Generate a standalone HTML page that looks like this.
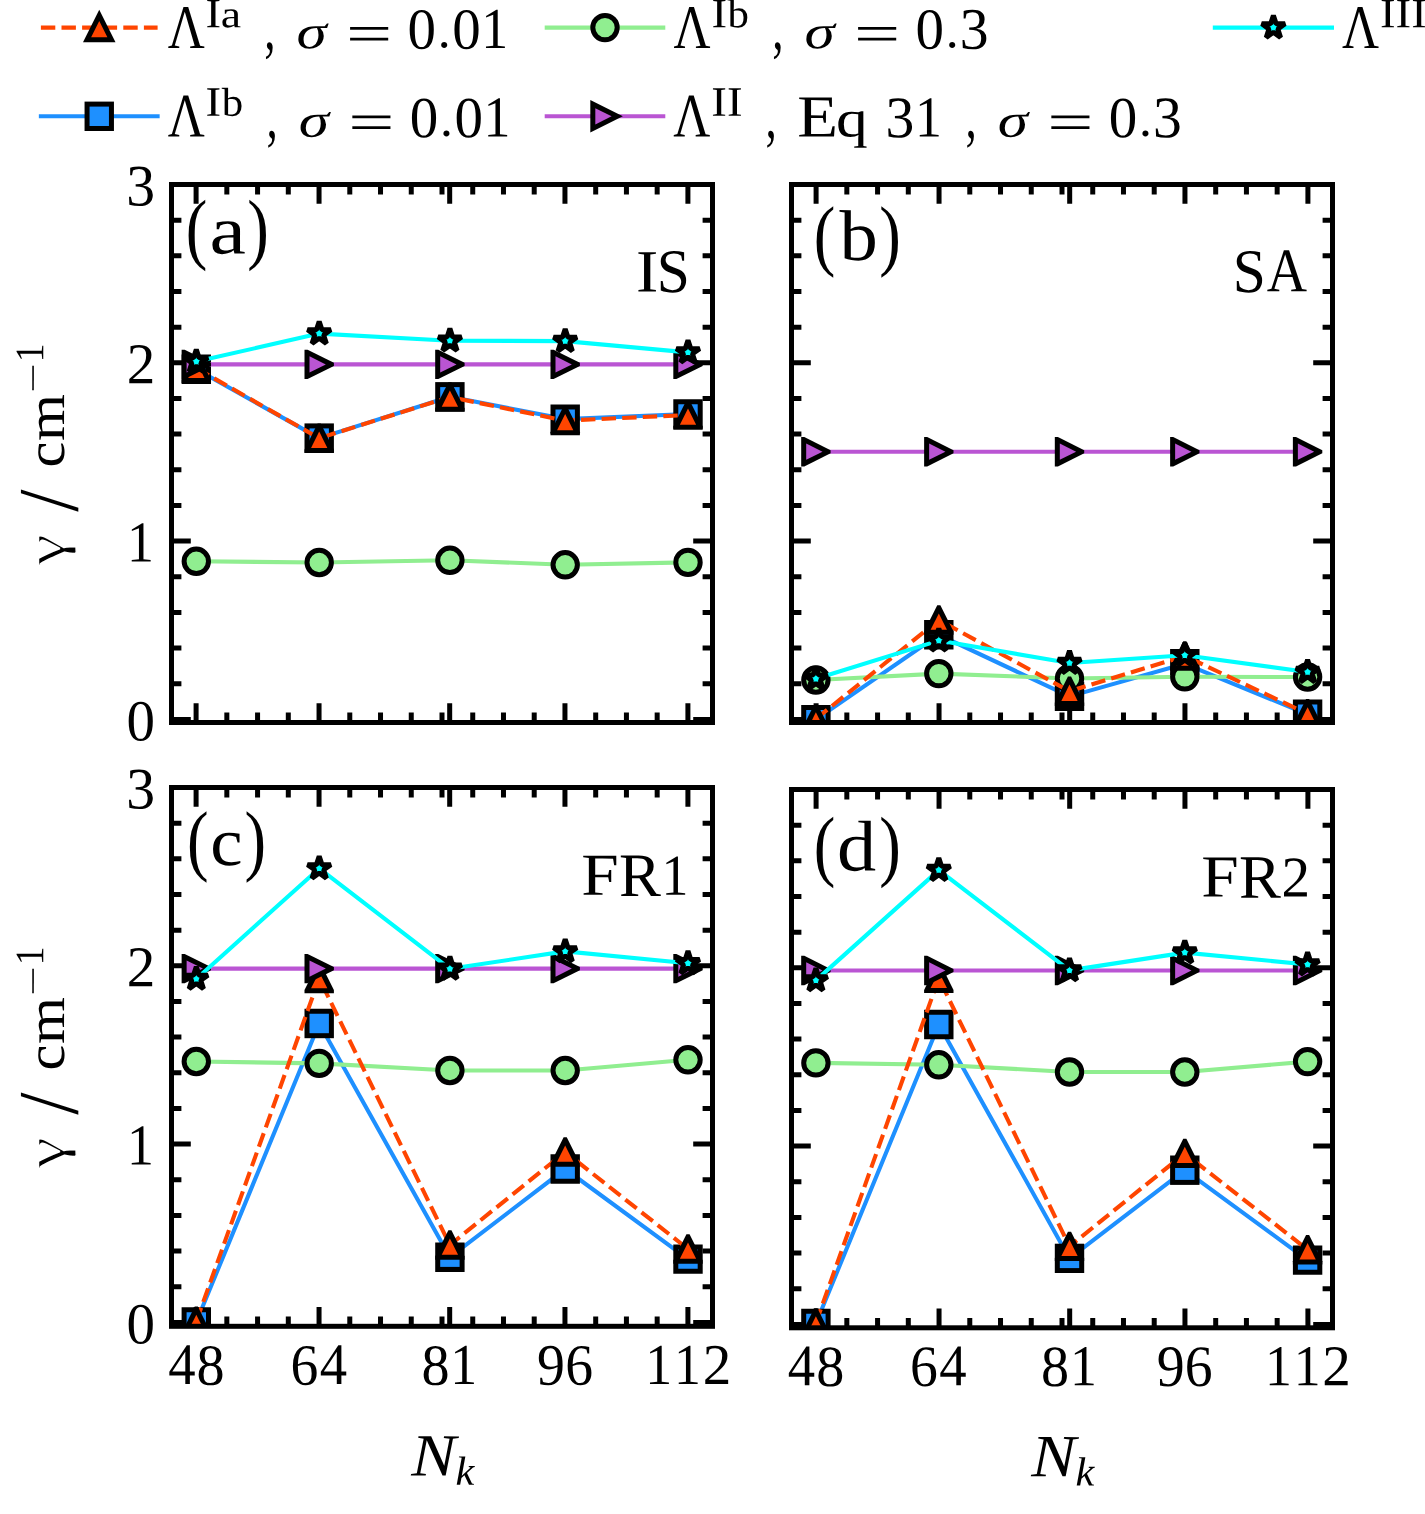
<!DOCTYPE html>
<html><head><meta charset="utf-8"><title>gamma vs Nk</title>
<style>
html,body{margin:0;padding:0;background:#fff;}
svg{display:block;}
text{font-size:100px;fill:#000;font-kerning:none;font-feature-settings:"kern" 0,"liga" 0;}
.r{font-family:"Liberation Serif",serif;}
.i{font-family:"Liberation Serif",serif;font-style:italic;}
.p{white-space:pre;}
.t{stroke:#fff;stroke-width:1.5px;vector-effect:non-scaling-stroke;paint-order:fill stroke;}
</style></head><body>
<svg width="1425" height="1514" viewBox="0 0 1425 1514">
<rect width="1425" height="1514" fill="#fff"/>
<defs><clipPath id="clipa"><rect x="171.5" y="184.5" width="541" height="538"/></clipPath><clipPath id="clipb"><rect x="791.5" y="184.5" width="541" height="538"/></clipPath><clipPath id="clipc"><rect x="171.5" y="787.5" width="541" height="538.8"/></clipPath><clipPath id="clipd"><rect x="791.5" y="789.5" width="541" height="538.3"/></clipPath></defs><line x1="40.9" y1="27.6" x2="157.6" y2="27.6" stroke="#ff4500" stroke-width="4.1" stroke-dasharray="14.4 6.2"/><path d="M99.25 9.81L115.495 42.3L83.005 42.3Z"/><path d="M99.25 20.99L107.405 37.3L91.095 37.3Z" fill="#ff4500"/><line x1="40.9" y1="116.3" x2="157.6" y2="116.3" stroke="#1e90ff" stroke-width="4.1" stroke-linecap="square"/><path d="M84.55 101.6L113.95 101.6L113.95 131L84.55 131Z"/><path d="M89.55 106.6L108.95 106.6L108.95 126L89.55 126Z" fill="#1e90ff"/><line x1="546.75" y1="27.6" x2="663.25" y2="27.6" stroke="#90ee90" stroke-width="4.1" stroke-linecap="square"/><circle cx="605" cy="27.6" r="12.2" fill="#90ee90" stroke="#000" stroke-width="5"/><line x1="546.75" y1="116.3" x2="663.25" y2="116.3" stroke="#ba55d3" stroke-width="4.1" stroke-linecap="square"/><path d="M622.79 116.3L590.3 132.545L590.3 100.055Z"/><path d="M611.61 116.3L595.3 124.455L595.3 108.145Z" fill="#ba55d3"/><line x1="1214.85" y1="27.6" x2="1331.95" y2="27.6" stroke="#00ffff" stroke-width="4.1" stroke-linecap="square"/><path d="M1273.4 15.4L1270.661 23.83L1261.797 23.83L1268.968 29.04L1266.229 37.47L1273.4 32.26L1280.571 37.47L1277.832 29.04L1285.003 23.83L1276.139 23.83Z" fill="#00ffff" stroke="#000" stroke-width="5" stroke-linejoin="bevel"/><path d="M196.091 722.5L196.091 703.2M196.091 184.5L196.091 203.8M319.045 722.5L319.045 703.2M319.045 184.5L319.045 203.8M449.685 722.5L449.685 703.2M449.685 184.5L449.685 203.8M564.955 722.5L564.955 703.2M564.955 184.5L564.955 203.8M687.909 722.5L687.909 703.2M687.909 184.5L687.909 203.8M226.83 722.5L226.83 712.6M226.83 184.5L226.83 194.4M257.568 722.5L257.568 712.6M257.568 184.5L257.568 194.4M288.307 722.5L288.307 712.6M288.307 184.5L288.307 194.4M349.784 722.5L349.784 712.6M349.784 184.5L349.784 194.4M380.523 722.5L380.523 712.6M380.523 184.5L380.523 194.4M411.261 722.5L411.261 712.6M411.261 184.5L411.261 194.4M442 722.5L442 712.6M442 184.5L442 194.4M472.739 722.5L472.739 712.6M472.739 184.5L472.739 194.4M503.477 722.5L503.477 712.6M503.477 184.5L503.477 194.4M534.216 722.5L534.216 712.6M534.216 184.5L534.216 194.4M595.693 722.5L595.693 712.6M595.693 184.5L595.693 194.4M626.432 722.5L626.432 712.6M626.432 184.5L626.432 194.4M657.17 722.5L657.17 712.6M657.17 184.5L657.17 194.4M171.5 719.4L190.8 719.4M712.5 719.4L693.2 719.4M171.5 683.74L181.4 683.74M712.5 683.74L702.6 683.74M171.5 648.08L181.4 648.08M712.5 648.08L702.6 648.08M171.5 612.42L181.4 612.42M712.5 612.42L702.6 612.42M171.5 576.76L181.4 576.76M712.5 576.76L702.6 576.76M171.5 541.1L190.8 541.1M712.5 541.1L693.2 541.1M171.5 505.44L181.4 505.44M712.5 505.44L702.6 505.44M171.5 469.78L181.4 469.78M712.5 469.78L702.6 469.78M171.5 434.12L181.4 434.12M712.5 434.12L702.6 434.12M171.5 398.46L181.4 398.46M712.5 398.46L702.6 398.46M171.5 362.8L190.8 362.8M712.5 362.8L693.2 362.8M171.5 327.14L181.4 327.14M712.5 327.14L702.6 327.14M171.5 291.48L181.4 291.48M712.5 291.48L702.6 291.48M171.5 255.82L181.4 255.82M712.5 255.82L702.6 255.82M171.5 220.16L181.4 220.16M712.5 220.16L702.6 220.16M171.5 184.5L190.8 184.5M712.5 184.5L693.2 184.5" stroke="#000" stroke-width="5" fill="none"/><g clip-path="url(#clipa)"><polyline points="196.3,369.3 319.2,438.1 449.9,396.8 565.2,419.1 688,414" fill="none" stroke="#1e90ff" stroke-width="4.1" stroke-linejoin="round"/><path d="M181.6 354.6L211 354.6L211 384L181.6 384Z"/><path d="M186.6 359.6L206 359.6L206 379L186.6 379Z" fill="#1e90ff"/><path d="M304.5 423.4L333.9 423.4L333.9 452.8L304.5 452.8Z"/><path d="M309.5 428.4L328.9 428.4L328.9 447.8L309.5 447.8Z" fill="#1e90ff"/><path d="M435.2 382.1L464.6 382.1L464.6 411.5L435.2 411.5Z"/><path d="M440.2 387.1L459.6 387.1L459.6 406.5L440.2 406.5Z" fill="#1e90ff"/><path d="M550.5 404.4L579.9 404.4L579.9 433.8L550.5 433.8Z"/><path d="M555.5 409.4L574.9 409.4L574.9 428.8L555.5 428.8Z" fill="#1e90ff"/><path d="M673.3 399.3L702.7 399.3L702.7 428.7L673.3 428.7Z"/><path d="M678.3 404.3L697.7 404.3L697.7 423.7L678.3 423.7Z" fill="#1e90ff"/><polyline points="196.3,561.3 319.2,562.5 449.9,560.3 565.2,564.8 688,562.4" fill="none" stroke="#90ee90" stroke-width="4.1" stroke-linejoin="round"/><circle cx="196.3" cy="561.3" r="12.2" fill="#90ee90" stroke="#000" stroke-width="5"/><circle cx="319.2" cy="562.5" r="12.2" fill="#90ee90" stroke="#000" stroke-width="5"/><circle cx="449.9" cy="560.3" r="12.2" fill="#90ee90" stroke="#000" stroke-width="5"/><circle cx="565.2" cy="564.8" r="12.2" fill="#90ee90" stroke="#000" stroke-width="5"/><circle cx="688" cy="562.4" r="12.2" fill="#90ee90" stroke="#000" stroke-width="5"/><polyline points="196.3,368.2 319.2,438.2 449.9,397 565.2,420.6 688,415" fill="none" stroke="#ff4500" stroke-width="4.1" stroke-linejoin="round" stroke-dasharray="14.4 6.2" stroke-linecap="butt"/><path d="M181.6 379.81L194.755 353.5L197.845 353.5L211 379.81L211 382.9L181.6 382.9Z"/><path d="M196.3 361.59L204.455 377.9L188.145 377.9Z" fill="#ff4500"/><path d="M304.5 449.81L317.655 423.5L320.745 423.5L333.9 449.81L333.9 452.9L304.5 452.9Z"/><path d="M319.2 431.59L327.355 447.9L311.045 447.9Z" fill="#ff4500"/><path d="M435.2 408.61L448.355 382.3L451.445 382.3L464.6 408.61L464.6 411.7L435.2 411.7Z"/><path d="M449.9 390.39L458.055 406.7L441.745 406.7Z" fill="#ff4500"/><path d="M550.5 432.21L563.655 405.9L566.745 405.9L579.9 432.21L579.9 435.3L550.5 435.3Z"/><path d="M565.2 413.99L573.355 430.3L557.045 430.3Z" fill="#ff4500"/><path d="M673.3 426.61L686.455 400.3L689.545 400.3L702.7 426.61L702.7 429.7L673.3 429.7Z"/><path d="M688 408.39L696.155 424.7L679.845 424.7Z" fill="#ff4500"/><polyline points="196.3,364.4 319.2,364.4 449.9,364.4 565.2,364.4 688,364.4" fill="none" stroke="#ba55d3" stroke-width="4.1" stroke-linejoin="round"/><path d="M184.69 349.7L211 362.855L211 365.945L184.69 379.1L181.6 379.1L181.6 349.7Z"/><path d="M202.91 364.4L186.6 372.555L186.6 356.245Z" fill="#ba55d3"/><path d="M307.59 349.7L333.9 362.855L333.9 365.945L307.59 379.1L304.5 379.1L304.5 349.7Z"/><path d="M325.81 364.4L309.5 372.555L309.5 356.245Z" fill="#ba55d3"/><path d="M438.29 349.7L464.6 362.855L464.6 365.945L438.29 379.1L435.2 379.1L435.2 349.7Z"/><path d="M456.51 364.4L440.2 372.555L440.2 356.245Z" fill="#ba55d3"/><path d="M553.59 349.7L579.9 362.855L579.9 365.945L553.59 379.1L550.5 379.1L550.5 349.7Z"/><path d="M571.81 364.4L555.5 372.555L555.5 356.245Z" fill="#ba55d3"/><path d="M676.39 349.7L702.7 362.855L702.7 365.945L676.39 379.1L673.3 379.1L673.3 349.7Z"/><path d="M694.61 364.4L678.3 372.555L678.3 356.245Z" fill="#ba55d3"/><polyline points="196.3,361.6 319.2,333.6 449.9,340.7 565.2,341.1 688,352.4" fill="none" stroke="#00ffff" stroke-width="4.1" stroke-linejoin="round"/><path d="M196.3 349.4L193.561 357.83L184.697 357.83L191.868 363.04L189.129 371.47L196.3 366.26L203.471 371.47L200.732 363.04L207.903 357.83L199.039 357.83Z" fill="#00ffff" stroke="#000" stroke-width="5" stroke-linejoin="bevel"/><path d="M319.2 321.4L316.461 329.83L307.597 329.83L314.768 335.04L312.029 343.47L319.2 338.26L326.371 343.47L323.632 335.04L330.803 329.83L321.939 329.83Z" fill="#00ffff" stroke="#000" stroke-width="5" stroke-linejoin="bevel"/><path d="M449.9 328.5L447.161 336.93L438.297 336.93L445.468 342.14L442.729 350.57L449.9 345.36L457.071 350.57L454.332 342.14L461.503 336.93L452.639 336.93Z" fill="#00ffff" stroke="#000" stroke-width="5" stroke-linejoin="bevel"/><path d="M565.2 328.9L562.461 337.33L553.597 337.33L560.768 342.54L558.029 350.97L565.2 345.76L572.371 350.97L569.632 342.54L576.803 337.33L567.939 337.33Z" fill="#00ffff" stroke="#000" stroke-width="5" stroke-linejoin="bevel"/><path d="M688 340.2L685.261 348.63L676.397 348.63L683.568 353.84L680.829 362.27L688 357.06L695.171 362.27L692.432 353.84L699.603 348.63L690.739 348.63Z" fill="#00ffff" stroke="#000" stroke-width="5" stroke-linejoin="bevel"/></g><rect x="171.5" y="184.5" width="541" height="538" fill="none" stroke="#000" stroke-width="5" stroke-linejoin="miter"/><path d="M816.091 722.5L816.091 703.2M816.091 184.5L816.091 203.8M939.045 722.5L939.045 703.2M939.045 184.5L939.045 203.8M1069.685 722.5L1069.685 703.2M1069.685 184.5L1069.685 203.8M1184.955 722.5L1184.955 703.2M1184.955 184.5L1184.955 203.8M1307.909 722.5L1307.909 703.2M1307.909 184.5L1307.909 203.8M846.83 722.5L846.83 712.6M846.83 184.5L846.83 194.4M877.568 722.5L877.568 712.6M877.568 184.5L877.568 194.4M908.307 722.5L908.307 712.6M908.307 184.5L908.307 194.4M969.784 722.5L969.784 712.6M969.784 184.5L969.784 194.4M1000.523 722.5L1000.523 712.6M1000.523 184.5L1000.523 194.4M1031.261 722.5L1031.261 712.6M1031.261 184.5L1031.261 194.4M1062 722.5L1062 712.6M1062 184.5L1062 194.4M1092.739 722.5L1092.739 712.6M1092.739 184.5L1092.739 194.4M1123.477 722.5L1123.477 712.6M1123.477 184.5L1123.477 194.4M1154.216 722.5L1154.216 712.6M1154.216 184.5L1154.216 194.4M1215.693 722.5L1215.693 712.6M1215.693 184.5L1215.693 194.4M1246.432 722.5L1246.432 712.6M1246.432 184.5L1246.432 194.4M1277.17 722.5L1277.17 712.6M1277.17 184.5L1277.17 194.4M791.5 719.4L810.8 719.4M1332.5 719.4L1313.2 719.4M791.5 683.74L801.4 683.74M1332.5 683.74L1322.6 683.74M791.5 648.08L801.4 648.08M1332.5 648.08L1322.6 648.08M791.5 612.42L801.4 612.42M1332.5 612.42L1322.6 612.42M791.5 576.76L801.4 576.76M1332.5 576.76L1322.6 576.76M791.5 541.1L810.8 541.1M1332.5 541.1L1313.2 541.1M791.5 505.44L801.4 505.44M1332.5 505.44L1322.6 505.44M791.5 469.78L801.4 469.78M1332.5 469.78L1322.6 469.78M791.5 434.12L801.4 434.12M1332.5 434.12L1322.6 434.12M791.5 398.46L801.4 398.46M1332.5 398.46L1322.6 398.46M791.5 362.8L810.8 362.8M1332.5 362.8L1313.2 362.8M791.5 327.14L801.4 327.14M1332.5 327.14L1322.6 327.14M791.5 291.48L801.4 291.48M1332.5 291.48L1322.6 291.48M791.5 255.82L801.4 255.82M1332.5 255.82L1322.6 255.82M791.5 220.16L801.4 220.16M1332.5 220.16L1322.6 220.16M791.5 184.5L810.8 184.5M1332.5 184.5L1313.2 184.5" stroke="#000" stroke-width="5" fill="none"/><g clip-path="url(#clipb)"><polyline points="815.9,719.6 938.8,634.8 1069.5,696.4 1184.8,663.8 1307.6,714.3" fill="none" stroke="#1e90ff" stroke-width="4.1" stroke-linejoin="round"/><path d="M801.2 704.9L830.6 704.9L830.6 734.3L801.2 734.3Z"/><path d="M806.2 709.9L825.6 709.9L825.6 729.3L806.2 729.3Z" fill="#1e90ff"/><path d="M924.1 620.1L953.5 620.1L953.5 649.5L924.1 649.5Z"/><path d="M929.1 625.1L948.5 625.1L948.5 644.5L929.1 644.5Z" fill="#1e90ff"/><path d="M1054.8 681.7L1084.2 681.7L1084.2 711.1L1054.8 711.1Z"/><path d="M1059.8 686.7L1079.2 686.7L1079.2 706.1L1059.8 706.1Z" fill="#1e90ff"/><path d="M1170.1 649.1L1199.5 649.1L1199.5 678.5L1170.1 678.5Z"/><path d="M1175.1 654.1L1194.5 654.1L1194.5 673.5L1175.1 673.5Z" fill="#1e90ff"/><path d="M1292.9 699.6L1322.3 699.6L1322.3 729L1292.9 729Z"/><path d="M1297.9 704.6L1317.3 704.6L1317.3 724L1297.9 724Z" fill="#1e90ff"/><polyline points="815.9,680 938.8,673.6 1069.5,678.5 1184.8,676.8 1307.6,677" fill="none" stroke="#90ee90" stroke-width="4.1" stroke-linejoin="round"/><circle cx="815.9" cy="680" r="12.2" fill="#90ee90" stroke="#000" stroke-width="5"/><circle cx="938.8" cy="673.6" r="12.2" fill="#90ee90" stroke="#000" stroke-width="5"/><circle cx="1069.5" cy="678.5" r="12.2" fill="#90ee90" stroke="#000" stroke-width="5"/><circle cx="1184.8" cy="676.8" r="12.2" fill="#90ee90" stroke="#000" stroke-width="5"/><circle cx="1307.6" cy="677" r="12.2" fill="#90ee90" stroke="#000" stroke-width="5"/><polyline points="815.9,718.9 938.8,620 1069.5,691.2 1184.8,656 1307.6,713.8" fill="none" stroke="#ff4500" stroke-width="4.1" stroke-linejoin="round" stroke-dasharray="14.4 6.2" stroke-linecap="butt"/><path d="M801.2 730.51L814.355 704.2L817.445 704.2L830.6 730.51L830.6 733.6L801.2 733.6Z"/><path d="M815.9 712.29L824.055 728.6L807.745 728.6Z" fill="#ff4500"/><path d="M924.1 631.61L937.255 605.3L940.345 605.3L953.5 631.61L953.5 634.7L924.1 634.7Z"/><path d="M938.8 613.39L946.955 629.7L930.645 629.7Z" fill="#ff4500"/><path d="M1054.8 702.81L1067.955 676.5L1071.045 676.5L1084.2 702.81L1084.2 705.9L1054.8 705.9Z"/><path d="M1069.5 684.59L1077.655 700.9L1061.345 700.9Z" fill="#ff4500"/><path d="M1170.1 667.61L1183.255 641.3L1186.345 641.3L1199.5 667.61L1199.5 670.7L1170.1 670.7Z"/><path d="M1184.8 649.39L1192.955 665.7L1176.645 665.7Z" fill="#ff4500"/><path d="M1292.9 725.41L1306.055 699.1L1309.145 699.1L1322.3 725.41L1322.3 728.5L1292.9 728.5Z"/><path d="M1307.6 707.19L1315.755 723.5L1299.445 723.5Z" fill="#ff4500"/><polyline points="815.9,451.7 938.8,451.7 1069.5,451.7 1184.8,451.7 1307.6,451.7" fill="none" stroke="#ba55d3" stroke-width="4.1" stroke-linejoin="round"/><path d="M804.29 437L830.6 450.155L830.6 453.245L804.29 466.4L801.2 466.4L801.2 437Z"/><path d="M822.51 451.7L806.2 459.855L806.2 443.545Z" fill="#ba55d3"/><path d="M927.19 437L953.5 450.155L953.5 453.245L927.19 466.4L924.1 466.4L924.1 437Z"/><path d="M945.41 451.7L929.1 459.855L929.1 443.545Z" fill="#ba55d3"/><path d="M1057.89 437L1084.2 450.155L1084.2 453.245L1057.89 466.4L1054.8 466.4L1054.8 437Z"/><path d="M1076.11 451.7L1059.8 459.855L1059.8 443.545Z" fill="#ba55d3"/><path d="M1173.19 437L1199.5 450.155L1199.5 453.245L1173.19 466.4L1170.1 466.4L1170.1 437Z"/><path d="M1191.41 451.7L1175.1 459.855L1175.1 443.545Z" fill="#ba55d3"/><path d="M1295.99 437L1322.3 450.155L1322.3 453.245L1295.99 466.4L1292.9 466.4L1292.9 437Z"/><path d="M1314.21 451.7L1297.9 459.855L1297.9 443.545Z" fill="#ba55d3"/><polyline points="815.9,678.8 938.8,640.6 1069.5,663 1184.8,655.3 1307.6,672" fill="none" stroke="#00ffff" stroke-width="4.1" stroke-linejoin="round"/><path d="M815.9 666.6L813.161 675.03L804.297 675.03L811.468 680.24L808.729 688.67L815.9 683.46L823.071 688.67L820.332 680.24L827.503 675.03L818.639 675.03Z" fill="#00ffff" stroke="#000" stroke-width="5" stroke-linejoin="bevel"/><path d="M938.8 628.4L936.061 636.83L927.197 636.83L934.368 642.04L931.629 650.47L938.8 645.26L945.971 650.47L943.232 642.04L950.403 636.83L941.539 636.83Z" fill="#00ffff" stroke="#000" stroke-width="5" stroke-linejoin="bevel"/><path d="M1069.5 650.8L1066.761 659.23L1057.897 659.23L1065.068 664.44L1062.329 672.87L1069.5 667.66L1076.671 672.87L1073.932 664.44L1081.103 659.23L1072.239 659.23Z" fill="#00ffff" stroke="#000" stroke-width="5" stroke-linejoin="bevel"/><path d="M1184.8 643.1L1182.061 651.53L1173.197 651.53L1180.368 656.74L1177.629 665.17L1184.8 659.96L1191.971 665.17L1189.232 656.74L1196.403 651.53L1187.539 651.53Z" fill="#00ffff" stroke="#000" stroke-width="5" stroke-linejoin="bevel"/><path d="M1307.6 659.8L1304.861 668.23L1295.997 668.23L1303.168 673.44L1300.429 681.87L1307.6 676.66L1314.771 681.87L1312.032 673.44L1319.203 668.23L1310.339 668.23Z" fill="#00ffff" stroke="#000" stroke-width="5" stroke-linejoin="bevel"/></g><rect x="791.5" y="184.5" width="541" height="538" fill="none" stroke="#000" stroke-width="5" stroke-linejoin="miter"/><path d="M196.091 1326.3L196.091 1307M196.091 787.5L196.091 806.8M319.045 1326.3L319.045 1307M319.045 787.5L319.045 806.8M449.685 1326.3L449.685 1307M449.685 787.5L449.685 806.8M564.955 1326.3L564.955 1307M564.955 787.5L564.955 806.8M687.909 1326.3L687.909 1307M687.909 787.5L687.909 806.8M226.83 1326.3L226.83 1316.4M226.83 787.5L226.83 797.4M257.568 1326.3L257.568 1316.4M257.568 787.5L257.568 797.4M288.307 1326.3L288.307 1316.4M288.307 787.5L288.307 797.4M349.784 1326.3L349.784 1316.4M349.784 787.5L349.784 797.4M380.523 1326.3L380.523 1316.4M380.523 787.5L380.523 797.4M411.261 1326.3L411.261 1316.4M411.261 787.5L411.261 797.4M442 1326.3L442 1316.4M442 787.5L442 797.4M472.739 1326.3L472.739 1316.4M472.739 787.5L472.739 797.4M503.477 1326.3L503.477 1316.4M503.477 787.5L503.477 797.4M534.216 1326.3L534.216 1316.4M534.216 787.5L534.216 797.4M595.693 1326.3L595.693 1316.4M595.693 787.5L595.693 797.4M626.432 1326.3L626.432 1316.4M626.432 787.5L626.432 797.4M657.17 1326.3L657.17 1316.4M657.17 787.5L657.17 797.4M171.5 1322.4L190.8 1322.4M712.5 1322.4L693.2 1322.4M171.5 1286.74L181.4 1286.74M712.5 1286.74L702.6 1286.74M171.5 1251.08L181.4 1251.08M712.5 1251.08L702.6 1251.08M171.5 1215.42L181.4 1215.42M712.5 1215.42L702.6 1215.42M171.5 1179.76L181.4 1179.76M712.5 1179.76L702.6 1179.76M171.5 1144.1L190.8 1144.1M712.5 1144.1L693.2 1144.1M171.5 1108.44L181.4 1108.44M712.5 1108.44L702.6 1108.44M171.5 1072.78L181.4 1072.78M712.5 1072.78L702.6 1072.78M171.5 1037.12L181.4 1037.12M712.5 1037.12L702.6 1037.12M171.5 1001.46L181.4 1001.46M712.5 1001.46L702.6 1001.46M171.5 965.8L190.8 965.8M712.5 965.8L693.2 965.8M171.5 930.14L181.4 930.14M712.5 930.14L702.6 930.14M171.5 894.48L181.4 894.48M712.5 894.48L702.6 894.48M171.5 858.82L181.4 858.82M712.5 858.82L702.6 858.82M171.5 823.16L181.4 823.16M712.5 823.16L702.6 823.16M171.5 787.5L190.8 787.5M712.5 787.5L693.2 787.5" stroke="#000" stroke-width="5" fill="none"/><g clip-path="url(#clipc)"><polyline points="196.3,1322 319.2,1023.5 449.9,1257.2 565.2,1169 688,1259.1" fill="none" stroke="#1e90ff" stroke-width="4.1" stroke-linejoin="round"/><path d="M181.6 1307.3L211 1307.3L211 1336.7L181.6 1336.7Z"/><path d="M186.6 1312.3L206 1312.3L206 1331.7L186.6 1331.7Z" fill="#1e90ff"/><path d="M304.5 1008.8L333.9 1008.8L333.9 1038.2L304.5 1038.2Z"/><path d="M309.5 1013.8L328.9 1013.8L328.9 1033.2L309.5 1033.2Z" fill="#1e90ff"/><path d="M435.2 1242.5L464.6 1242.5L464.6 1271.9L435.2 1271.9Z"/><path d="M440.2 1247.5L459.6 1247.5L459.6 1266.9L440.2 1266.9Z" fill="#1e90ff"/><path d="M550.5 1154.3L579.9 1154.3L579.9 1183.7L550.5 1183.7Z"/><path d="M555.5 1159.3L574.9 1159.3L574.9 1178.7L555.5 1178.7Z" fill="#1e90ff"/><path d="M673.3 1244.4L702.7 1244.4L702.7 1273.8L673.3 1273.8Z"/><path d="M678.3 1249.4L697.7 1249.4L697.7 1268.8L678.3 1268.8Z" fill="#1e90ff"/><polyline points="196.3,1061.5 319.2,1063.4 449.9,1070.5 565.2,1070.5 688,1059.8" fill="none" stroke="#90ee90" stroke-width="4.1" stroke-linejoin="round"/><circle cx="196.3" cy="1061.5" r="12.2" fill="#90ee90" stroke="#000" stroke-width="5"/><circle cx="319.2" cy="1063.4" r="12.2" fill="#90ee90" stroke="#000" stroke-width="5"/><circle cx="449.9" cy="1070.5" r="12.2" fill="#90ee90" stroke="#000" stroke-width="5"/><circle cx="565.2" cy="1070.5" r="12.2" fill="#90ee90" stroke="#000" stroke-width="5"/><circle cx="688" cy="1059.8" r="12.2" fill="#90ee90" stroke="#000" stroke-width="5"/><polyline points="196.3,1321.3 319.2,978.5 449.9,1245 565.2,1152 688,1249" fill="none" stroke="#ff4500" stroke-width="4.1" stroke-linejoin="round" stroke-dasharray="14.4 6.2" stroke-linecap="butt"/><path d="M181.6 1332.91L194.755 1306.6L197.845 1306.6L211 1332.91L211 1336L181.6 1336Z"/><path d="M196.3 1314.69L204.455 1331L188.145 1331Z" fill="#ff4500"/><path d="M304.5 990.11L317.655 963.8L320.745 963.8L333.9 990.11L333.9 993.2L304.5 993.2Z"/><path d="M319.2 971.89L327.355 988.2L311.045 988.2Z" fill="#ff4500"/><path d="M435.2 1256.61L448.355 1230.3L451.445 1230.3L464.6 1256.61L464.6 1259.7L435.2 1259.7Z"/><path d="M449.9 1238.39L458.055 1254.7L441.745 1254.7Z" fill="#ff4500"/><path d="M550.5 1163.61L563.655 1137.3L566.745 1137.3L579.9 1163.61L579.9 1166.7L550.5 1166.7Z"/><path d="M565.2 1145.39L573.355 1161.7L557.045 1161.7Z" fill="#ff4500"/><path d="M673.3 1260.61L686.455 1234.3L689.545 1234.3L702.7 1260.61L702.7 1263.7L673.3 1263.7Z"/><path d="M688 1242.39L696.155 1258.7L679.845 1258.7Z" fill="#ff4500"/><polyline points="196.3,968.6 319.2,968.6 449.9,968.6 565.2,968.6 688,968.6" fill="none" stroke="#ba55d3" stroke-width="4.1" stroke-linejoin="round"/><path d="M184.69 953.9L211 967.055L211 970.145L184.69 983.3L181.6 983.3L181.6 953.9Z"/><path d="M202.91 968.6L186.6 976.755L186.6 960.445Z" fill="#ba55d3"/><path d="M307.59 953.9L333.9 967.055L333.9 970.145L307.59 983.3L304.5 983.3L304.5 953.9Z"/><path d="M325.81 968.6L309.5 976.755L309.5 960.445Z" fill="#ba55d3"/><path d="M438.29 953.9L464.6 967.055L464.6 970.145L438.29 983.3L435.2 983.3L435.2 953.9Z"/><path d="M456.51 968.6L440.2 976.755L440.2 960.445Z" fill="#ba55d3"/><path d="M553.59 953.9L579.9 967.055L579.9 970.145L553.59 983.3L550.5 983.3L550.5 953.9Z"/><path d="M571.81 968.6L555.5 976.755L555.5 960.445Z" fill="#ba55d3"/><path d="M676.39 953.9L702.7 967.055L702.7 970.145L676.39 983.3L673.3 983.3L673.3 953.9Z"/><path d="M694.61 968.6L678.3 976.755L678.3 960.445Z" fill="#ba55d3"/><polyline points="196.3,978.9 319.2,868.4 449.9,968.8 565.2,951.4 688,963.3" fill="none" stroke="#00ffff" stroke-width="4.1" stroke-linejoin="round"/><path d="M196.3 966.7L193.561 975.13L184.697 975.13L191.868 980.34L189.129 988.77L196.3 983.56L203.471 988.77L200.732 980.34L207.903 975.13L199.039 975.13Z" fill="#00ffff" stroke="#000" stroke-width="5" stroke-linejoin="bevel"/><path d="M319.2 856.2L316.461 864.63L307.597 864.63L314.768 869.84L312.029 878.27L319.2 873.06L326.371 878.27L323.632 869.84L330.803 864.63L321.939 864.63Z" fill="#00ffff" stroke="#000" stroke-width="5" stroke-linejoin="bevel"/><path d="M449.9 956.6L447.161 965.03L438.297 965.03L445.468 970.24L442.729 978.67L449.9 973.46L457.071 978.67L454.332 970.24L461.503 965.03L452.639 965.03Z" fill="#00ffff" stroke="#000" stroke-width="5" stroke-linejoin="bevel"/><path d="M565.2 939.2L562.461 947.63L553.597 947.63L560.768 952.84L558.029 961.27L565.2 956.06L572.371 961.27L569.632 952.84L576.803 947.63L567.939 947.63Z" fill="#00ffff" stroke="#000" stroke-width="5" stroke-linejoin="bevel"/><path d="M688 951.1L685.261 959.53L676.397 959.53L683.568 964.74L680.829 973.17L688 967.96L695.171 973.17L692.432 964.74L699.603 959.53L690.739 959.53Z" fill="#00ffff" stroke="#000" stroke-width="5" stroke-linejoin="bevel"/></g><rect x="171.5" y="787.5" width="541" height="538.8" fill="none" stroke="#000" stroke-width="5" stroke-linejoin="miter"/><path d="M816.091 1327.8L816.091 1308.5M816.091 789.5L816.091 808.8M939.045 1327.8L939.045 1308.5M939.045 789.5L939.045 808.8M1069.685 1327.8L1069.685 1308.5M1069.685 789.5L1069.685 808.8M1184.955 1327.8L1184.955 1308.5M1184.955 789.5L1184.955 808.8M1307.909 1327.8L1307.909 1308.5M1307.909 789.5L1307.909 808.8M846.83 1327.8L846.83 1317.9M846.83 789.5L846.83 799.4M877.568 1327.8L877.568 1317.9M877.568 789.5L877.568 799.4M908.307 1327.8L908.307 1317.9M908.307 789.5L908.307 799.4M969.784 1327.8L969.784 1317.9M969.784 789.5L969.784 799.4M1000.523 1327.8L1000.523 1317.9M1000.523 789.5L1000.523 799.4M1031.261 1327.8L1031.261 1317.9M1031.261 789.5L1031.261 799.4M1062 1327.8L1062 1317.9M1062 789.5L1062 799.4M1092.739 1327.8L1092.739 1317.9M1092.739 789.5L1092.739 799.4M1123.477 1327.8L1123.477 1317.9M1123.477 789.5L1123.477 799.4M1154.216 1327.8L1154.216 1317.9M1154.216 789.5L1154.216 799.4M1215.693 1327.8L1215.693 1317.9M1215.693 789.5L1215.693 799.4M1246.432 1327.8L1246.432 1317.9M1246.432 789.5L1246.432 799.4M1277.17 1327.8L1277.17 1317.9M1277.17 789.5L1277.17 799.4M791.5 1324.4L810.8 1324.4M1332.5 1324.4L1313.2 1324.4M791.5 1288.74L801.4 1288.74M1332.5 1288.74L1322.6 1288.74M791.5 1253.08L801.4 1253.08M1332.5 1253.08L1322.6 1253.08M791.5 1217.42L801.4 1217.42M1332.5 1217.42L1322.6 1217.42M791.5 1181.76L801.4 1181.76M1332.5 1181.76L1322.6 1181.76M791.5 1146.1L810.8 1146.1M1332.5 1146.1L1313.2 1146.1M791.5 1110.44L801.4 1110.44M1332.5 1110.44L1322.6 1110.44M791.5 1074.78L801.4 1074.78M1332.5 1074.78L1322.6 1074.78M791.5 1039.12L801.4 1039.12M1332.5 1039.12L1322.6 1039.12M791.5 1003.46L801.4 1003.46M1332.5 1003.46L1322.6 1003.46M791.5 967.8L810.8 967.8M1332.5 967.8L1313.2 967.8M791.5 932.14L801.4 932.14M1332.5 932.14L1322.6 932.14M791.5 896.48L801.4 896.48M1332.5 896.48L1322.6 896.48M791.5 860.82L801.4 860.82M1332.5 860.82L1322.6 860.82M791.5 825.16L801.4 825.16M1332.5 825.16L1322.6 825.16M791.5 789.5L810.8 789.5M1332.5 789.5L1313.2 789.5" stroke="#000" stroke-width="5" fill="none"/><g clip-path="url(#clipd)"><polyline points="815.9,1323.5 938.8,1024.5 1069.5,1258.4 1184.8,1170.2 1307.6,1260.1" fill="none" stroke="#1e90ff" stroke-width="4.1" stroke-linejoin="round"/><path d="M801.2 1308.8L830.6 1308.8L830.6 1338.2L801.2 1338.2Z"/><path d="M806.2 1313.8L825.6 1313.8L825.6 1333.2L806.2 1333.2Z" fill="#1e90ff"/><path d="M924.1 1009.8L953.5 1009.8L953.5 1039.2L924.1 1039.2Z"/><path d="M929.1 1014.8L948.5 1014.8L948.5 1034.2L929.1 1034.2Z" fill="#1e90ff"/><path d="M1054.8 1243.7L1084.2 1243.7L1084.2 1273.1L1054.8 1273.1Z"/><path d="M1059.8 1248.7L1079.2 1248.7L1079.2 1268.1L1059.8 1268.1Z" fill="#1e90ff"/><path d="M1170.1 1155.5L1199.5 1155.5L1199.5 1184.9L1170.1 1184.9Z"/><path d="M1175.1 1160.5L1194.5 1160.5L1194.5 1179.9L1175.1 1179.9Z" fill="#1e90ff"/><path d="M1292.9 1245.4L1322.3 1245.4L1322.3 1274.8L1292.9 1274.8Z"/><path d="M1297.9 1250.4L1317.3 1250.4L1317.3 1269.8L1297.9 1269.8Z" fill="#1e90ff"/><polyline points="815.9,1062.9 938.8,1064.8 1069.5,1072 1184.8,1072 1307.6,1061.6" fill="none" stroke="#90ee90" stroke-width="4.1" stroke-linejoin="round"/><circle cx="815.9" cy="1062.9" r="12.2" fill="#90ee90" stroke="#000" stroke-width="5"/><circle cx="938.8" cy="1064.8" r="12.2" fill="#90ee90" stroke="#000" stroke-width="5"/><circle cx="1069.5" cy="1072" r="12.2" fill="#90ee90" stroke="#000" stroke-width="5"/><circle cx="1184.8" cy="1072" r="12.2" fill="#90ee90" stroke="#000" stroke-width="5"/><circle cx="1307.6" cy="1061.6" r="12.2" fill="#90ee90" stroke="#000" stroke-width="5"/><polyline points="815.9,1322.9 938.8,978.3 1069.5,1246.4 1184.8,1153.4 1307.6,1249.7" fill="none" stroke="#ff4500" stroke-width="4.1" stroke-linejoin="round" stroke-dasharray="14.4 6.2" stroke-linecap="butt"/><path d="M801.2 1334.51L814.355 1308.2L817.445 1308.2L830.6 1334.51L830.6 1337.6L801.2 1337.6Z"/><path d="M815.9 1316.29L824.055 1332.6L807.745 1332.6Z" fill="#ff4500"/><path d="M924.1 989.91L937.255 963.6L940.345 963.6L953.5 989.91L953.5 993L924.1 993Z"/><path d="M938.8 971.69L946.955 988L930.645 988Z" fill="#ff4500"/><path d="M1054.8 1258.01L1067.955 1231.7L1071.045 1231.7L1084.2 1258.01L1084.2 1261.1L1054.8 1261.1Z"/><path d="M1069.5 1239.79L1077.655 1256.1L1061.345 1256.1Z" fill="#ff4500"/><path d="M1170.1 1165.01L1183.255 1138.7L1186.345 1138.7L1199.5 1165.01L1199.5 1168.1L1170.1 1168.1Z"/><path d="M1184.8 1146.79L1192.955 1163.1L1176.645 1163.1Z" fill="#ff4500"/><path d="M1292.9 1261.31L1306.055 1235L1309.145 1235L1322.3 1261.31L1322.3 1264.4L1292.9 1264.4Z"/><path d="M1307.6 1243.09L1315.755 1259.4L1299.445 1259.4Z" fill="#ff4500"/><polyline points="815.9,970.5 938.8,970.5 1069.5,970.5 1184.8,970.5 1307.6,970.5" fill="none" stroke="#ba55d3" stroke-width="4.1" stroke-linejoin="round"/><path d="M804.29 955.8L830.6 968.955L830.6 972.045L804.29 985.2L801.2 985.2L801.2 955.8Z"/><path d="M822.51 970.5L806.2 978.655L806.2 962.345Z" fill="#ba55d3"/><path d="M927.19 955.8L953.5 968.955L953.5 972.045L927.19 985.2L924.1 985.2L924.1 955.8Z"/><path d="M945.41 970.5L929.1 978.655L929.1 962.345Z" fill="#ba55d3"/><path d="M1057.89 955.8L1084.2 968.955L1084.2 972.045L1057.89 985.2L1054.8 985.2L1054.8 955.8Z"/><path d="M1076.11 970.5L1059.8 978.655L1059.8 962.345Z" fill="#ba55d3"/><path d="M1173.19 955.8L1199.5 968.955L1199.5 972.045L1173.19 985.2L1170.1 985.2L1170.1 955.8Z"/><path d="M1191.41 970.5L1175.1 978.655L1175.1 962.345Z" fill="#ba55d3"/><path d="M1295.99 955.8L1322.3 968.955L1322.3 972.045L1295.99 985.2L1292.9 985.2L1292.9 955.8Z"/><path d="M1314.21 970.5L1297.9 978.655L1297.9 962.345Z" fill="#ba55d3"/><polyline points="815.9,980.4 938.8,870.1 1069.5,970.4 1184.8,952.6 1307.6,964.5" fill="none" stroke="#00ffff" stroke-width="4.1" stroke-linejoin="round"/><path d="M815.9 968.2L813.161 976.63L804.297 976.63L811.468 981.84L808.729 990.27L815.9 985.06L823.071 990.27L820.332 981.84L827.503 976.63L818.639 976.63Z" fill="#00ffff" stroke="#000" stroke-width="5" stroke-linejoin="bevel"/><path d="M938.8 857.9L936.061 866.33L927.197 866.33L934.368 871.54L931.629 879.97L938.8 874.76L945.971 879.97L943.232 871.54L950.403 866.33L941.539 866.33Z" fill="#00ffff" stroke="#000" stroke-width="5" stroke-linejoin="bevel"/><path d="M1069.5 958.2L1066.761 966.63L1057.897 966.63L1065.068 971.84L1062.329 980.27L1069.5 975.06L1076.671 980.27L1073.932 971.84L1081.103 966.63L1072.239 966.63Z" fill="#00ffff" stroke="#000" stroke-width="5" stroke-linejoin="bevel"/><path d="M1184.8 940.4L1182.061 948.83L1173.197 948.83L1180.368 954.04L1177.629 962.47L1184.8 957.26L1191.971 962.47L1189.232 954.04L1196.403 948.83L1187.539 948.83Z" fill="#00ffff" stroke="#000" stroke-width="5" stroke-linejoin="bevel"/><path d="M1307.6 952.3L1304.861 960.73L1295.997 960.73L1303.168 965.94L1300.429 974.37L1307.6 969.16L1314.771 974.37L1312.032 965.94L1319.203 960.73L1310.339 960.73Z" fill="#00ffff" stroke="#000" stroke-width="5" stroke-linejoin="bevel"/></g><rect x="791.5" y="789.5" width="541" height="538.3" fill="none" stroke="#000" stroke-width="5" stroke-linejoin="miter"/><text class="r" transform="matrix(0.512 0.001 0 0.622 167.65 48.064)">Λ</text><text class="r" transform="matrix(0.468 0.001 0 0.419 205.598 27.259)">I</text><text class="r" transform="matrix(0.459 0.001 0 0.385 220.745 27.318)">a</text><text class="r p" transform="matrix(0.451 0.001 0 0.668 253.026 48.864)"> ,</text><text class="i p" transform="matrix(0.613 0.001 0 0.483 281.173 48.207)"> σ</text><text class="r p" transform="matrix(0.82 0.001 0 0.537 325.564 51.535)"> =</text><text class="r p" transform="matrix(0.57 0.001 0 0.585 393.326 48.741)"> 0</text><text class="r" transform="matrix(0.515 0.001 0 0.515 437.744 47.359)">.</text><text class="r" transform="matrix(0.57 0.001 0 0.585 452.209 48.766)">0</text><text class="r" transform="matrix(0.538 0.001 0 0.579 481.214 48.074)">1</text><text class="r" transform="matrix(0.512 0.001 0 0.622 167.65 136.564)">Λ</text><text class="r" transform="matrix(0.468 0.001 0 0.419 205.598 115.759)">I</text><text class="r" transform="matrix(0.429 0.001 0 0.402 221.795 115.801)">b</text><text class="r p" transform="matrix(0.451 0.001 0 0.668 255.257 137.364)"> ,</text><text class="i p" transform="matrix(0.613 0.001 0 0.483 283.405 136.707)"> σ</text><text class="r p" transform="matrix(0.82 0.001 0 0.537 327.795 140.035)"> =</text><text class="r p" transform="matrix(0.57 0.001 0 0.585 395.558 137.241)"> 0</text><text class="r" transform="matrix(0.515 0.001 0 0.515 439.975 135.859)">.</text><text class="r" transform="matrix(0.57 0.001 0 0.585 454.441 137.266)">0</text><text class="r" transform="matrix(0.538 0.001 0 0.579 483.446 136.574)">1</text><text class="r" transform="matrix(0.512 0.001 0 0.622 673.45 48.064)">Λ</text><text class="r" transform="matrix(0.468 0.001 0 0.419 711.398 27.259)">I</text><text class="r" transform="matrix(0.429 0.001 0 0.402 727.595 27.301)">b</text><text class="r p" transform="matrix(0.451 0.001 0 0.668 761.057 48.864)"> ,</text><text class="i p" transform="matrix(0.613 0.001 0 0.483 789.205 48.207)"> σ</text><text class="r p" transform="matrix(0.82 0.001 0 0.537 833.595 51.535)"> =</text><text class="r p" transform="matrix(0.57 0.001 0 0.585 901.358 48.741)"> 0</text><text class="r" transform="matrix(0.515 0.001 0 0.515 945.775 47.359)">.</text><text class="r" transform="matrix(0.577 0.001 0 0.588 959.825 48.763)">3</text><text class="r" transform="matrix(0.512 0.001 0 0.622 673.35 136.564)">Λ</text><text class="r" transform="matrix(0.468 0.001 0 0.419 711.298 115.759)">I</text><text class="r" transform="matrix(0.468 0.001 0 0.419 726.919 115.759)">I</text><text class="r p" transform="matrix(0.451 0.001 0 0.668 754.262 137.364)"> ,</text><text class="r p" transform="matrix(0.667 0.001 0 0.596 780.669 136.546)"> E</text><text class="r" transform="matrix(0.635 0.001 0 0.526 836.095 136.509)">q</text><text class="r p" transform="matrix(0.577 0.001 0 0.588 871.091 137.238)"> 3</text><text class="r" transform="matrix(0.538 0.001 0 0.579 914.924 136.574)">1</text><text class="r p" transform="matrix(0.451 0.001 0 0.668 954.313 137.364)"> ,</text><text class="i p" transform="matrix(0.613 0.001 0 0.483 982.46 136.707)"> σ</text><text class="r p" transform="matrix(0.82 0.001 0 0.537 1026.851 140.035)"> =</text><text class="r p" transform="matrix(0.57 0.001 0 0.585 1094.613 137.241)"> 0</text><text class="r" transform="matrix(0.515 0.001 0 0.515 1139.031 135.859)">.</text><text class="r" transform="matrix(0.577 0.001 0 0.588 1153.081 137.263)">3</text><text class="r" transform="matrix(0.512 0.001 0 0.622 1342.05 48.064)">Λ</text><text class="r" transform="matrix(0.468 0.001 0 0.419 1379.998 27.259)">I</text><text class="r" transform="matrix(0.468 0.001 0 0.419 1395.619 27.259)">I</text><text class="r" transform="matrix(0.468 0.001 0 0.419 1411.24 27.259)">I</text><text class="r" transform="matrix(0.57 0.001 0 0.585 126.575 740.466)">0</text><text class="r" transform="matrix(0.538 0.001 0 0.579 126.887 561.474)">1</text><text class="r" transform="matrix(0.571 0.001 0 0.577 126.867 383.176)">2</text><text class="r" transform="matrix(0.577 0.001 0 0.588 126.159 205.563)">3</text><text class="r" transform="matrix(0.57 0.001 0 0.585 126.575 1343.466)">0</text><text class="r" transform="matrix(0.538 0.001 0 0.579 126.887 1164.474)">1</text><text class="r" transform="matrix(0.571 0.001 0 0.577 126.867 986.176)">2</text><text class="r" transform="matrix(0.577 0.001 0 0.588 126.159 808.563)">3</text><text class="r" transform="matrix(0.547 0.001 0 0.59 168.146 1383.975)">4</text><text class="r" transform="matrix(0.562 0.001 0 0.585 196.57 1384.666)">8</text><text class="r" transform="matrix(0.557 0.001 0 0.588 290.523 1384.663)">6</text><text class="r" transform="matrix(0.547 0.001 0 0.59 319.739 1383.975)">4</text><text class="r" transform="matrix(0.562 0.001 0 0.585 421.478 1384.666)">8</text><text class="r" transform="matrix(0.538 0.001 0 0.579 450.28 1383.974)">1</text><text class="r" transform="matrix(0.558 0.001 0 0.588 537.119 1384.664)">9</text><text class="r" transform="matrix(0.557 0.001 0 0.588 565.215 1384.663)">6</text><text class="r" transform="matrix(0.538 0.001 0 0.579 645.341 1383.974)">1</text><text class="r" transform="matrix(0.538 0.001 0 0.579 674.033 1383.974)">1</text><text class="r" transform="matrix(0.571 0.001 0 0.577 702.706 1383.976)">2</text><text class="r" transform="matrix(0.547 0.001 0 0.59 787.746 1385.275)">4</text><text class="r" transform="matrix(0.562 0.001 0 0.585 816.17 1385.966)">8</text><text class="r" transform="matrix(0.557 0.001 0 0.588 910.123 1385.963)">6</text><text class="r" transform="matrix(0.547 0.001 0 0.59 939.339 1385.275)">4</text><text class="r" transform="matrix(0.562 0.001 0 0.585 1041.078 1385.966)">8</text><text class="r" transform="matrix(0.538 0.001 0 0.579 1069.88 1385.274)">1</text><text class="r" transform="matrix(0.558 0.001 0 0.588 1156.719 1385.964)">9</text><text class="r" transform="matrix(0.557 0.001 0 0.588 1184.815 1385.963)">6</text><text class="r" transform="matrix(0.538 0.001 0 0.579 1264.941 1385.274)">1</text><text class="r" transform="matrix(0.538 0.001 0 0.579 1293.633 1385.274)">1</text><text class="r" transform="matrix(0.571 0.001 0 0.577 1322.306 1385.276)">2</text><text class="i" transform="matrix(0.67 0.001 0 0.599 411.219 1475.565)">N</text><text class="i" transform="matrix(0.423 0.001 0 0.408 455.587 1484.625)">k</text><text class="i" transform="matrix(0.67 0.001 0 0.599 1031.219 1476.365)">N</text><text class="i" transform="matrix(0.423 0.001 0 0.408 1075.587 1485.425)">k</text><g transform="translate(64.0 566.95) rotate(-90)"><text class="r t" transform="matrix(0.717 0.001 0 0.561 1.138 0.371)">γ</text><text class="r p" transform="matrix(0.799 0.001 0 0.858 35.257 13.47)"> /</text><text class="r p" transform="matrix(0.583 0.001 0 0.548 85.002 0.049)"> c</text><text class="r" transform="matrix(0.605 0.001 0 0.538 125.918 -0.039)">m</text><text class="r" transform="matrix(0.527 0.001 0 0.323 173.879 -20.183)">−</text><text class="r" transform="matrix(0.377 0.001 0 0.405 204.681 -20.851)">1</text></g><g transform="translate(64.0 1169.95) rotate(-90)"><text class="r t" transform="matrix(0.717 0.001 0 0.561 1.138 0.371)">γ</text><text class="r p" transform="matrix(0.799 0.001 0 0.858 35.257 13.47)"> /</text><text class="r p" transform="matrix(0.583 0.001 0 0.548 85.002 0.049)"> c</text><text class="r" transform="matrix(0.605 0.001 0 0.538 125.918 -0.039)">m</text><text class="r" transform="matrix(0.527 0.001 0 0.323 173.879 -20.183)">−</text><text class="r" transform="matrix(0.377 0.001 0 0.405 204.681 -20.851)">1</text></g><text class="r" transform="matrix(0.648 0.001 0 0.791 185.703 254.474)">(</text><text class="r" transform="matrix(0.819 0.001 0 0.687 209.478 253.495)">a</text><text class="r" transform="matrix(0.648 0.001 0 0.791 247.21 254.475)">)</text><text class="r" transform="matrix(0.648 0.001 0 0.791 813.803 261.074)">(</text><text class="r" transform="matrix(0.766 0.001 0 0.719 839.453 260.064)">b</text><text class="r" transform="matrix(0.648 0.001 0 0.791 879.295 261.075)">)</text><text class="r" transform="matrix(0.648 0.001 0 0.791 186.903 866.074)">(</text><text class="r" transform="matrix(0.729 0.001 0 0.685 210.207 865.098)">c</text><text class="r" transform="matrix(0.648 0.001 0 0.791 244.425 866.075)">)</text><text class="r" transform="matrix(0.648 0.001 0 0.791 813.803 871.474)">(</text><text class="r" transform="matrix(0.783 0.001 0 0.719 837.054 870.461)">d</text><text class="r" transform="matrix(0.648 0.001 0 0.791 879.295 871.475)">)</text><text class="r" transform="matrix(0.669 0.001 0 0.599 636.034 291.383)">I</text><text class="r" transform="matrix(0.595 0.001 0 0.621 656.799 292.028)">S</text><text class="r" transform="matrix(0.595 0.001 0 0.621 1232.87 291.928)">S</text><text class="r" transform="matrix(0.558 0.001 0 0.622 1266.809 291.264)">A</text><text class="r" transform="matrix(0.674 0.001 0 0.596 581.308 894.773)">F</text><text class="r" transform="matrix(0.628 0.001 0 0.618 619.015 896.028)">R</text><text class="r" transform="matrix(0.538 0.001 0 0.579 661.437 894.774)">1</text><text class="r" transform="matrix(0.674 0.001 0 0.596 1201.308 896.573)">F</text><text class="r" transform="matrix(0.628 0.001 0 0.618 1239.015 897.828)">R</text><text class="r" transform="matrix(0.571 0.001 0 0.577 1281.417 896.576)">2</text>
</svg>
</body></html>
